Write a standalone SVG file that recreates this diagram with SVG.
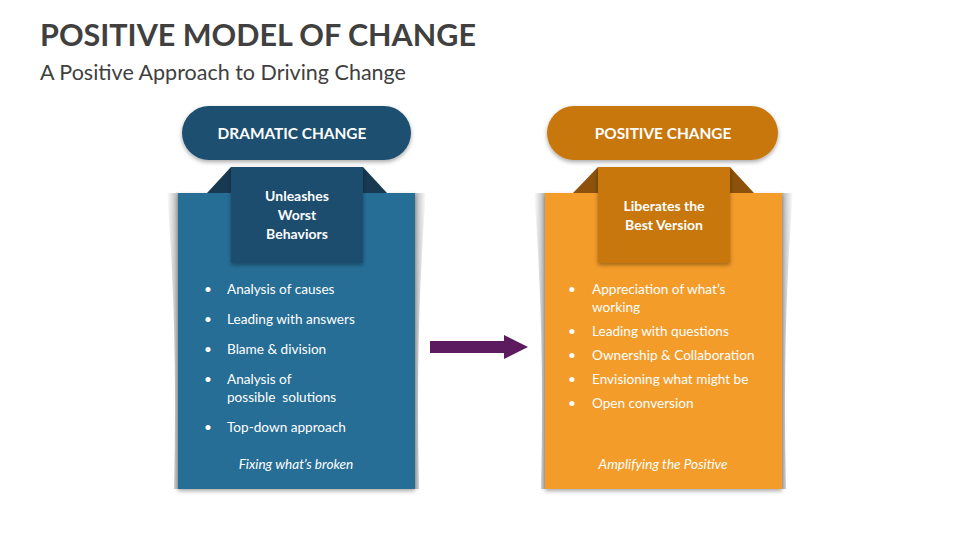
<svg xmlns="http://www.w3.org/2000/svg" width="960" height="540" viewBox="0 0 960 540">
<defs>
<linearGradient id="gl" x1="0" y1="0" x2="1" y2="0"><stop offset="0" stop-color="#ffffff"/><stop offset="1" stop-color="#b5b5b5"/></linearGradient>
<linearGradient id="gr" x1="0" y1="0" x2="1" y2="0"><stop offset="0" stop-color="#b5b5b5"/><stop offset="1" stop-color="#ffffff"/></linearGradient>
<filter id="sh" x="-10%" y="-10%" width="120%" height="130%"><feDropShadow dx="0" dy="2" stdDeviation="2" flood-color="#000" flood-opacity="0.35"/></filter>
</defs>
<style>
.t{font-family:Lato,"Open Sans","Liberation Sans",sans-serif}
.title{font-size:30.5px;font-weight:bold;fill:#404040}
.sub{font-size:21.5px;fill:#404040}
.pill{font-size:15.4px;font-weight:bold;fill:#fff}
.tab{font-size:14px;font-weight:bold;fill:#fff}
.b{font-size:13.6px;fill:#fff}
.f{font-size:13.6px;font-style:italic;fill:#fff}
</style>
<rect width="960" height="540" fill="#fff"/>
<text class="t title" x="40" y="46">POSITIVE MODEL OF CHANGE</text>
<text class="t sub" x="40" y="80">A Positive Approach to Driving Change</text>

<g id="dramatic">
<path d="M167,193 L178,193 L178,489 L174,489 Q178,330 167,193 Z" fill="url(#gl)"/>
<path d="M426,193 L415,193 L415,489 L419,489 Q415,330 426,193 Z" fill="url(#gr)"/>
<rect x="178" y="193" width="237" height="296" fill="#286E96" filter="url(#sh)"/>
<polygon points="207,193 231,167 231,193" fill="#173A52"/>
<polygon points="387,193 363,167 363,193" fill="#173A52"/>
<rect x="231" y="167" width="132" height="96" fill="#1F4E6E" filter="url(#sh)"/>
<rect x="182" y="106" width="229" height="54" rx="27" fill="#1F5070" filter="url(#sh)"/>
<text class="t pill" x="292" y="139" text-anchor="middle">DRAMATIC CHANGE</text>
<text class="t tab" text-anchor="middle"><tspan x="297" y="201">Unleashes</tspan><tspan x="297" y="220">Worst</tspan><tspan x="297" y="239">Behaviors</tspan></text>
<g class="t b">
<text x="204" y="294">•</text><text x="227" y="294">Analysis of causes</text>
<text x="204" y="324">•</text><text x="227" y="324">Leading with answers</text>
<text x="204" y="354">•</text><text x="227" y="354">Blame &amp; division</text>
<text x="204" y="384">•</text><text x="227" y="384">Analysis of</text><text x="227" y="402" xml:space="preserve">possible  solutions</text>
<text x="204" y="432">•</text><text x="227" y="432">Top-down approach</text>
</g>
<text class="t f" x="296" y="469" text-anchor="middle">Fixing what’s broken</text>
</g>

<g id="positive">
<path d="M534,193 L545,193 L545,489 L541,489 Q545,330 534,193 Z" fill="url(#gl)"/>
<path d="M793,193 L782,193 L782,489 L786,489 Q782,330 793,193 Z" fill="url(#gr)"/>
<rect x="545" y="193" width="237" height="296" fill="#F39C2B" filter="url(#sh)"/>
<polygon points="573,193 598,167 598,193" fill="#8C520B"/>
<polygon points="754,193 730,167 730,193" fill="#8C520B"/>
<rect x="598" y="167" width="132" height="96" fill="#C87710" filter="url(#sh)"/>
<rect x="547" y="106" width="231" height="54" rx="27" fill="#C8770E" filter="url(#sh)"/>
<text class="t pill" x="663" y="139" text-anchor="middle">POSITIVE CHANGE</text>
<text class="t tab" text-anchor="middle"><tspan x="664" y="211">Liberates the</tspan><tspan x="664" y="230">Best Version</tspan></text>
<g class="t b">
<text x="568" y="294">•</text><text x="592" y="294">Appreciation of what’s</text><text x="592" y="312">working</text>
<text x="568" y="336">•</text><text x="592" y="336">Leading with questions</text>
<text x="568" y="360">•</text><text x="592" y="360">Ownership &amp; Collaboration</text>
<text x="568" y="384">•</text><text x="592" y="384">Envisioning what might be</text>
<text x="568" y="408">•</text><text x="592" y="408">Open conversion</text>
</g>
<text class="t f" x="663" y="469" text-anchor="middle">Amplifying the Positive</text>
</g>

<g id="connectors">
<polygon points="430,341 504,341 504,335 528,347 504,359 504,353 430,353" fill="#5C1A5F"/>
</g>
</svg>
